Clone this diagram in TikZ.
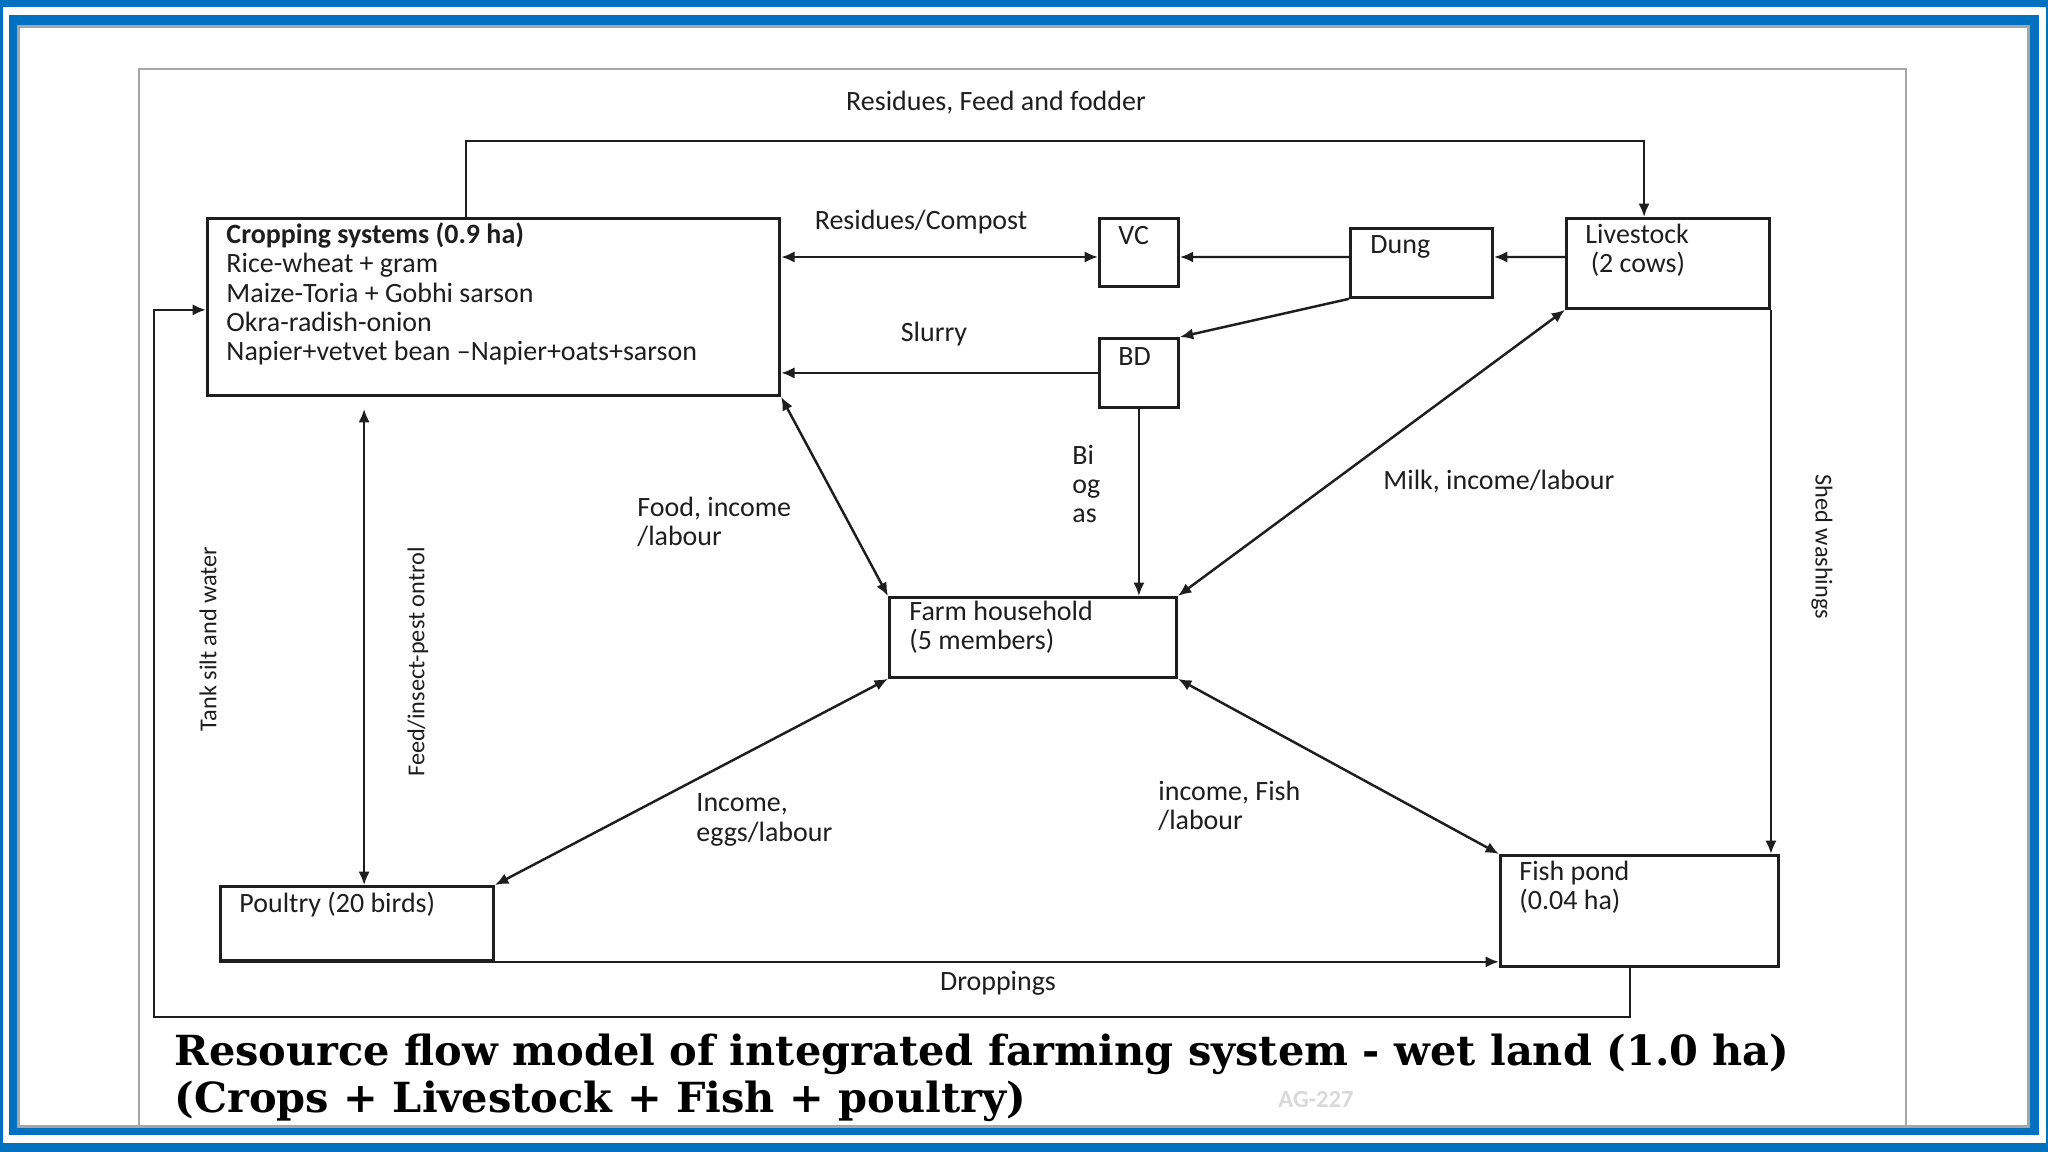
\documentclass[tikz,border=0pt]{standalone}
\usepackage{fontspec}
\setmainfont{Carlito}
\newfontfamily\titlefont{DejaVu Serif}
\usetikzlibrary{arrows.meta,positioning}
\definecolor{framecol}{RGB}{0,112,192}
\definecolor{inkcol}{RGB}{30,30,30}

\begin{document}
\begin{tikzpicture}[
  x=0.01cm, y=-0.01cm,
  font=\fontsize{7.95}{8.3}\selectfont,
  box/.style={draw=inkcol, line width=0.8pt, anchor=north west, inner sep=0pt},
  txt/.style={anchor=west, align=left, inner sep=0.5pt, text=inkcol},
  lbl/.style={align=left, inner sep=0.5pt, text=inkcol},
  vlbl/.style={lbl, font=\fontsize{6.9}{8}\selectfont},
  arrow/.style={-{Latex[length=3.8pt,width=3.2pt]}, line width=0.7pt, draw=inkcol},
  dbl/.style={{Latex[length=3.8pt,width=3.2pt]}-{Latex[length=3.8pt,width=3.2pt]},
              line width=0.7pt, draw=inkcol}
]
  \useasboundingbox (0,0) rectangle (2048,1152);

  % --- slide frame --------------------------------------------------
  \fill[framecol] (0,0) rectangle (2048,1152);
  \fill[white] (3,7) rectangle (2046,1143);
  \fill[framecol] (9,15) rectangle (2039,1135);
  \fill[white] (17,25) rectangle (2030,1128);
  \draw[black!35, line width=0.9pt] (18.5,1126.5) |- (2028.5,26.5) -- (2028.5,1126.5) -- cycle;
  \draw[gray!70, line width=0.6pt] (139,1127) |- (1906,69) -- (1906,1127);

  % --- boxes ----------------------------------------------------------
  \node[box, minimum width=5.72cm, minimum height=1.77cm] (crop) at (206,217) {};
  \node[box, minimum width=0.79cm, minimum height=0.68cm] (vc) at (1098,217) {};
  \node[box, minimum width=1.42cm, minimum height=0.69cm] (dung) at (1349,227) {};
  \node[box, minimum width=2.03cm, minimum height=0.90cm] (live) at (1565,217) {};
  \node[box, minimum width=0.79cm, minimum height=0.69cm] (bd) at (1098,337) {};
  \node[box, minimum width=2.87cm, minimum height=0.80cm] (farm) at (888,596) {};
  \node[box, minimum width=2.73cm, minimum height=0.74cm] (poultry) at (219,885) {};
  \node[box, minimum width=2.78cm, minimum height=1.11cm] (fish) at (1499,854) {};

  % --- box texts -----------------------------------------------------
  \node[txt] (crop-txt) at (224,294) {\textbf{Cropping systems (0.9 ha)}\\Rice-wheat + gram\\
    Maize-Toria + Gobhi sarson\\Okra-radish-onion\\Napier+vetvet bean --Napier+oats+sarson};
  \node[txt] (vc-txt) at (1116,236) {VC};
  \node[txt] (dung-txt) at (1368,247) {Dung};
  \node[txt] (live-txt) at (1583,250) {Livestock\\\hspace{1.5pt}(2 cows)};
  \node[txt] (bd-txt) at (1116,357) {BD};
  \node[txt] (farm-txt) at (907,627) {Farm household\\(5 members)};
  \node[txt] (poultry-txt) at (237,905) {Poultry (20 birds)};
  \node[txt] (fish-txt) at (1517,887) {Fish pond\\(0.04 ha)};

  % --- connectors ----------------------------------------------------
  \draw[arrow] ([xshift=2.6cm]crop.north west) -- ++(0,-76) -| ([xshift=0.79cm]live.north west);
  \draw[dbl] ([yshift=-0.4cm]crop.north east) -- ([yshift=-0.4cm]vc.north west);
  \draw[arrow] ([yshift=-0.3cm]dung.north west) -- ([yshift=-0.4cm]vc.north east);
  \draw[arrow] ([yshift=-0.4cm]live.north west) -- ([yshift=-0.3cm]dung.north east);
  \draw[arrow] (dung.south west) -- (bd.north east);
  \draw[arrow] (bd.west) -- (bd.west -| crop.east);
  \draw[arrow] (bd.south) -- (bd.south |- farm.north);
  \draw[dbl] (crop.south east) -- (farm.north west);
  \draw[dbl] (live.south west) -- (farm.north east);
  \draw[arrow] (live.south east) -- (live.south east |- fish.north);
  \draw[dbl] (farm.south west) -- (poultry.north east);
  \draw[dbl] (farm.south east) -- (fish.north west);

  \coordinate (feedtop) at ([xshift=1.58cm]crop.south west);
  \draw[dbl, shorten <=0.12cm] (feedtop) -- (feedtop |- poultry.north);
  \draw[arrow] (poultry.south west) -- (poultry.south west -| fish.west);

  \coordinate (tankfoot) at ([xshift=1.31cm]fish.south west);
  \coordinate (tankcorner) at (154,1017);
  \draw[arrow] (tankfoot) |- (tankcorner) |- ([yshift=0.87cm]crop.south west);

  % --- connector labels ---------------------------------------------
  \node[lbl] (l-fodder) at (996,103) {Residues, Feed and fodder};
  \node[lbl] (l-compost) at (921,222) {Residues/Compost};
  \node[lbl] (l-slurry) at (934,334) {Slurry};
  \node[lbl, anchor=west] (l-biogas) at (1070,484) {Bi\\og\\as};
  \node[lbl, anchor=west] (l-food) at (635,522) {Food, income\\/labour};
  \node[lbl, anchor=west] (l-milk) at (1381,482) {Milk, income/labour};
  \node[vlbl, rotate=-90] (l-shed) at (1822,547) {Shed washings};
  \node[vlbl, rotate=90] (l-tank) at (208,639) {Tank silt and water};
  \node[vlbl, rotate=90] (l-feed) at (418,662) {Feed/insect-pest ontrol};
  \node[lbl, anchor=west] (l-eggs) at (694,820) {Income,\\eggs/labour};
  \node[lbl, anchor=west] (l-fish) at (1156,806) {income, Fish\\/labour};
  \node[lbl] (l-drop) at (998,983) {Droppings};

  % --- title -----------------------------------------------------------
  \node[anchor=west, align=left, inner sep=0pt,
        font=\titlefont\bfseries\fontsize{11.8}{13.4}\selectfont] (title) at (174,1078)
    {Resource flow model of integrated farming system - wet land (1.0 ha)\\
     (Crops + Livestock + Fish + poultry)};
  \node[text=gray!30, font=\bfseries\fontsize{7}{8}\selectfont] (tag) at (1316,1100) {AG-227};
\end{tikzpicture}
\end{document}
